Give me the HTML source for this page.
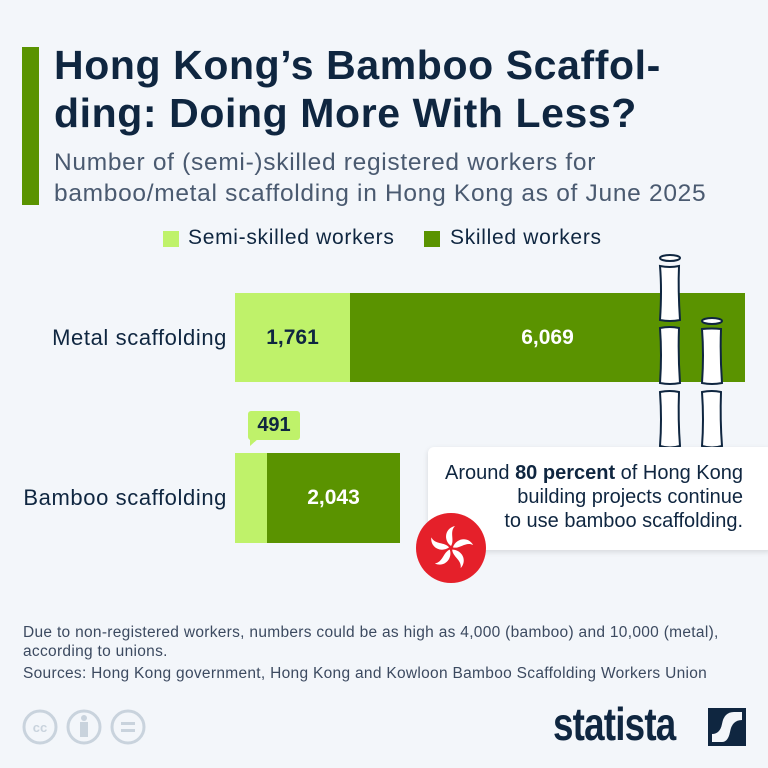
<!DOCTYPE html>
<html><head><meta charset="utf-8"><style>
body{margin:0;width:768px;height:768px;background:#f3f6fa;font-family:"Liberation Sans","DejaVu Sans",sans-serif;position:relative;overflow:hidden;color:#0f2640}
.a{position:absolute;white-space:nowrap}
</style></head><body>
<div class="a" style="left:22px;top:47px;width:17px;height:158px;background:#5a9300"></div>
<div class="a" style="left:54px;top:41px;font-size:41px;letter-spacing:0.6px;font-weight:bold;line-height:48px;color:#0f2640">Hong Kong’s Bamboo Scaffol-<br>ding: Doing More With Less?</div>
<div class="a" style="left:54px;top:147px;font-size:24.5px;letter-spacing:0.7px;line-height:31px;color:#4a5a70">Number of (semi-)skilled registered workers for<br>bamboo/metal scaffolding in Hong Kong as of June 2025</div>
<div class="a" style="left:163px;top:231px;width:16px;height:16px;background:#bff26a"></div>
<div class="a" style="left:188px;top:226px;font-size:21px;letter-spacing:0.7px;color:#0f2640">Semi-skilled workers</div>
<div class="a" style="left:424px;top:231px;width:16px;height:16px;background:#5a9300"></div>
<div class="a" style="left:450px;top:226px;font-size:21px;letter-spacing:0.7px;color:#0f2640">Skilled workers</div>

<div class="a" style="right:541px;top:325px;font-size:22px;letter-spacing:0.6px;color:#0f2640">Metal scaffolding</div>
<div class="a" style="left:235px;top:293px;width:115px;height:89px;background:#bff26a;display:flex;align-items:center;justify-content:center;font-weight:bold;font-size:21px">1,761</div>
<div class="a" style="left:350px;top:293px;width:395px;height:89px;background:#5a9300;display:flex;align-items:center;justify-content:center;font-weight:bold;font-size:21px;color:#fff">6,069</div>

<div class="a" style="right:541px;top:485px;font-size:22px;letter-spacing:0.6px;color:#0f2640">Bamboo scaffolding</div>
<div class="a" style="left:235px;top:453px;width:32px;height:90px;background:#bff26a"></div>
<div class="a" style="left:267px;top:453px;width:133px;height:90px;background:#5a9300;display:flex;align-items:center;justify-content:center;font-weight:bold;font-size:21px;color:#fff">2,043</div>
<div class="a" style="left:248px;top:411px;width:52px;height:29px;background:#bff26a;border-radius:3px;text-align:center;line-height:29px;font-weight:bold;font-size:20px">491</div>
<div class="a" style="left:250px;top:438px;width:0;height:0;border-right:9px solid transparent;border-top:8px solid #bff26a"></div>

<svg class="a" style="left:640px;top:250px" width="100" height="205" viewBox="0 0 100 205">
<g fill="#fff" stroke="#0f2640" stroke-width="2">
<ellipse cx="30" cy="8" rx="10" ry="3"/>
<path d="M20 16 Q30 18 39 16 Q38 40 40 70 Q30 72 20 70 Q22 40 20 16Z"/>
<path d="M20 78 Q30 76 39 78 Q38 105 40 133 Q30 135 20 133 Q22 105 20 78Z"/>
<path d="M20 142 Q30 140 39 142 Q38 170 40 196 Q30 199 20 196 Q22 170 20 142Z"/>
<ellipse cx="72" cy="71" rx="10" ry="3"/>
<path d="M62 79 Q72 78 81 79 Q80 105 82 133 Q72 135 62 133 Q64 105 62 79Z"/>
<path d="M62 142 Q72 140 81 142 Q80 170 82 196 Q72 199 62 196 Q64 170 62 142Z"/>
</g></svg>

<div class="a" style="left:428px;top:447px;width:345px;height:103px;background:#fff;border-radius:6px;box-shadow:0 2px 6px rgba(0,0,0,.12)"></div>
<div class="a" style="right:25px;top:461px;font-size:20px;line-height:24px;text-align:right;color:#0f2640">Around <b>80 percent</b> of Hong Kong<br>building projects continue<br>to use bamboo scaffolding.</div>
<svg class="a" style="left:415px;top:512px" width="72" height="72" viewBox="-36 -36 72 72">
<circle r="35" fill="#e5202a"/>
<g fill="#fff">
<path id="p" d="M0 -2 C-8 -8 -6 -20 4 -22 C-2 -16 4 -8 0 -2Z"/>
<use href="#p" transform="rotate(72)"/><use href="#p" transform="rotate(144)"/><use href="#p" transform="rotate(216)"/><use href="#p" transform="rotate(288)"/>
</g></svg>

<div class="a" style="left:23px;top:623px;font-size:15.5px;letter-spacing:0.3px;line-height:19px;color:#3c4a60">Due to non-registered workers, numbers could be as high as 4,000 (bamboo) and 10,000 (metal),<br>according to unions.</div>
<div class="a" style="left:23px;top:665px;font-size:15.5px;letter-spacing:0.3px;color:#3c4a60">Sources: Hong Kong government, Hong Kong and Kowloon Bamboo Scaffolding Workers Union</div>

<svg class="a" style="left:22px;top:707px" width="135" height="40">
<g fill="none" stroke="#c9d3dd" stroke-width="3">
<circle cx="18" cy="20" r="16"/><circle cx="62" cy="20" r="16"/><circle cx="106" cy="20" r="16"/></g>
<text x="18" y="25" font-size="13" font-weight="bold" fill="#c9d3dd" text-anchor="middle" font-family="Liberation Sans">cc</text>
<circle cx="62" cy="11" r="3" fill="#c9d3dd"/><rect x="58" y="15" width="8" height="15" fill="#c9d3dd"/>
<rect x="99" y="15" width="14" height="3" fill="#c9d3dd"/><rect x="99" y="22" width="14" height="3" fill="#c9d3dd"/>
</svg>
<div class="a" style="left:553px;top:697px;font-size:46px;font-weight:bold;letter-spacing:-1px;color:#0f2640;transform:scaleX(.8);transform-origin:left">statista</div>
<svg class="a" style="left:708px;top:708px" width="38" height="38"><rect width="38" height="38" fill="#0f2640"/><path d="M4 34 L14 34 Q20 34 22 24 Q24 12 34 12 L34 4 L26 4 Q16 4 14 16 Q12 26 4 26Z" fill="#f3f6fa"/></svg>
</body></html>
